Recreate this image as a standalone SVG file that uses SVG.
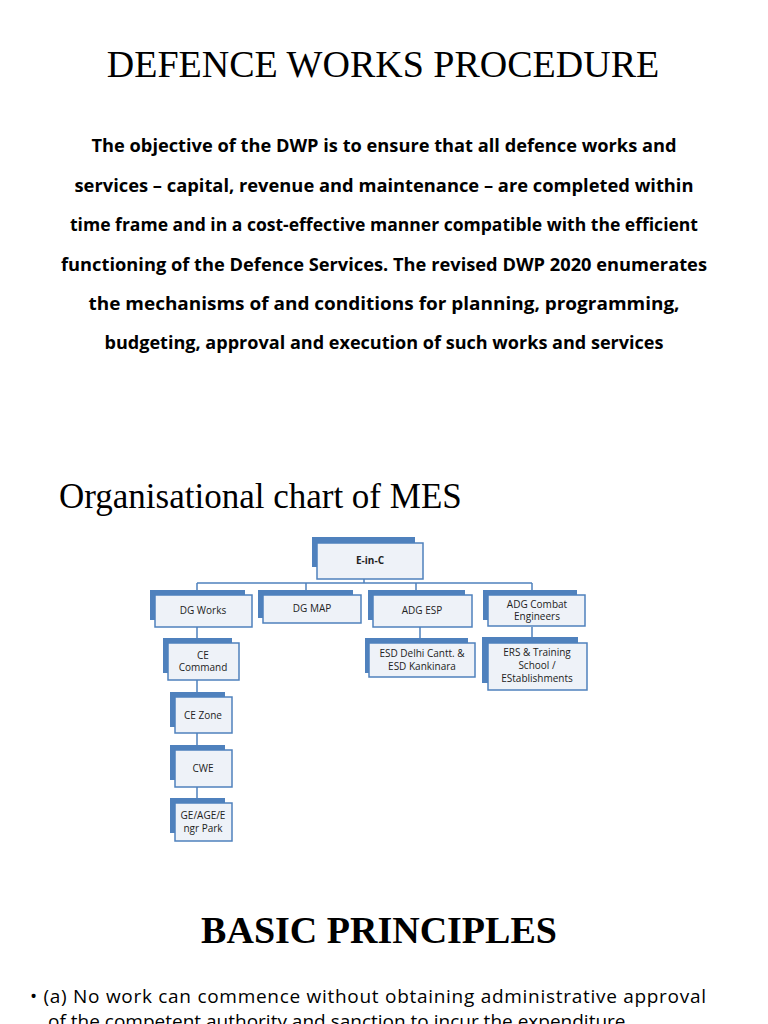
<svg xmlns="http://www.w3.org/2000/svg" width="768" height="1024" viewBox="0 0 768 1024">
<style>
.p{font-family:"Open Sans","Liberation Sans",sans-serif;font-weight:bold;font-size:17px;fill:#000;text-anchor:middle}
.bk{fill:#4f81bd}
.fr{fill:#eef2f8;stroke:#4f81bd;stroke-width:1.5}
.t{font-family:"Open Sans","Liberation Sans",sans-serif;font-size:10px;fill:#222;text-anchor:middle}
.c{stroke:#4f81bd;stroke-width:1.5;fill:none}
</style>
<rect width="768" height="1024" fill="#fff"/>
<text x="383" y="77" font-family="Liberation Serif,serif" font-size="38" text-anchor="middle">DEFENCE WORKS PROCEDURE</text>
<text class="p" x="384" y="152" textLength="585" lengthAdjust="spacingAndGlyphs">The objective of the DWP is to ensure that all defence works and</text>
<text class="p" x="384" y="192" textLength="619" lengthAdjust="spacingAndGlyphs">services – capital, revenue and maintenance – are completed within</text>
<text class="p" x="384" y="231" textLength="628" lengthAdjust="spacingAndGlyphs">time frame and in a cost-effective manner compatible with the efficient</text>
<text class="p" x="384" y="271" textLength="646" lengthAdjust="spacingAndGlyphs">functioning of the Defence Services. The revised DWP 2020 enumerates</text>
<text class="p" x="384" y="310" textLength="591" lengthAdjust="spacingAndGlyphs">the mechanisms of and conditions for planning, programming,</text>
<text class="p" x="384" y="349" textLength="559" lengthAdjust="spacingAndGlyphs">budgeting, approval and execution of such works and services</text>
<text x="59" y="508" font-family="Liberation Serif,serif" font-size="35">Organisational chart of MES</text>
<g id="connectors">
<path class="c" d="M364 579V583M197 583H532M197 583V595M306 583V595M416 583V595M532 583V595M197 627V643M197 680V697M197 733V750M197 787V803M420 627V643M532 627V643"/>
</g>
<g id="einc"><rect class="bk" x="312" y="537" width="103" height="30"/><rect class="fr" x="317" y="543" width="106" height="36"/><text class="t" x="370" y="564" font-weight="bold">E-in-C</text></g>
<g id="dgworks"><rect class="bk" x="150" y="590" width="95" height="30"/><rect class="fr" x="155" y="595" width="97" height="32"/><text class="t" x="203" y="614">DG Works</text></g>
<g id="dgmap"><rect class="bk" x="258" y="590" width="95" height="28"/><rect class="fr" x="263" y="595" width="98" height="28"/><text class="t" x="312" y="612">DG MAP</text></g>
<g id="adgesp"><rect class="bk" x="368" y="590" width="97" height="30"/><rect class="fr" x="373" y="595" width="99" height="32"/><text class="t" x="422" y="614">ADG ESP</text></g>
<g id="adgcombat"><rect class="bk" x="483" y="590" width="94" height="30"/><rect class="fr" x="488" y="595" width="97" height="31"/><text class="t" x="537" y="608">ADG Combat</text><text class="t" x="537" y="620">Engineers</text></g>
<g id="cecommand"><rect class="bk" x="163" y="638" width="69" height="35"/><rect class="fr" x="168" y="643" width="71" height="37"/><text class="t" x="203" y="659">CE</text><text class="t" x="203" y="671">Command</text></g>
<g id="esd"><rect class="bk" x="365" y="638" width="103" height="35"/><rect class="fr" x="369" y="643" width="106" height="34"/><text class="t" x="422" y="657">ESD Delhi Cantt. &amp;</text><text class="t" x="422" y="670">ESD Kankinara</text></g>
<g id="ers"><rect class="bk" x="482" y="637" width="96" height="46"/><rect class="fr" x="488" y="643" width="99" height="47"/><text class="t" x="537" y="656">ERS &amp; Training</text><text class="t" x="537" y="669">School /</text><text class="t" x="537" y="682">EStablishments</text></g>
<g id="cezone"><rect class="bk" x="170" y="692" width="55" height="35"/><rect class="fr" x="175" y="697" width="57" height="36"/><text class="t" x="203" y="719">CE Zone</text></g>
<g id="cwe"><rect class="bk" x="170" y="745" width="55" height="35"/><rect class="fr" x="175" y="750" width="57" height="37"/><text class="t" x="203" y="772">CWE</text></g>
<g id="ge"><rect class="bk" x="170" y="798" width="55" height="35"/><rect class="fr" x="175" y="803" width="57" height="38"/><text class="t" x="203" y="819">GE/AGE/E</text><text class="t" x="203" y="832">ngr Park</text></g>
<text x="379" y="943" font-family="Liberation Serif,serif" font-size="38" font-weight="bold" text-anchor="middle">BASIC PRINCIPLES</text>
<text x="30" y="1003" font-family="Open Sans,Liberation Sans,sans-serif" font-size="19" textLength="676">• (a) No work can commence without obtaining administrative approval</text>
<text x="48" y="1028" font-family="Open Sans,Liberation Sans,sans-serif" font-size="19">of the competent authority and sanction to incur the expenditure.</text>
</svg>
